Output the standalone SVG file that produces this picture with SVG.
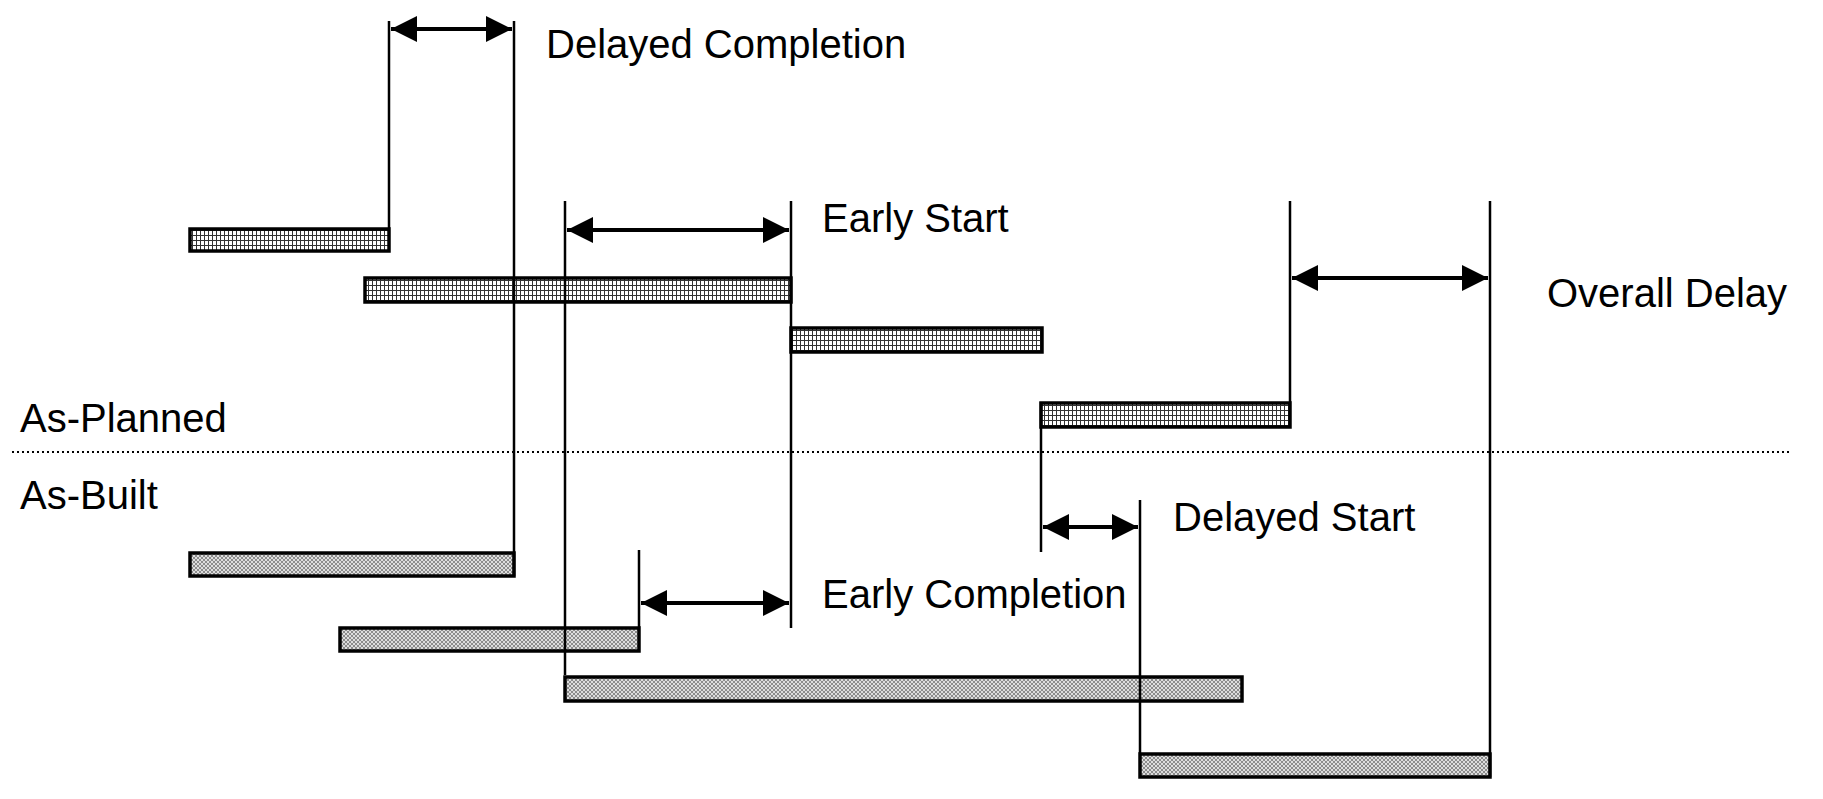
<svg xmlns="http://www.w3.org/2000/svg" width="1823" height="799" viewBox="0 0 1823 799">
<style>
.t{font-family:"Liberation Sans",Arial,sans-serif;font-size:40px;fill:#000}
.pl{fill:url(#grid);stroke:#000;stroke-width:3.5}
.ab{fill:url(#dots);stroke:#000;stroke-width:3.5}
.v{stroke:#000;stroke-width:2.5;fill:none}
.a{stroke:#000;stroke-width:4;fill:none;marker-start:url(#ah);marker-end:url(#ah)}
</style>
<defs>
<pattern id="grid" width="4" height="5" patternUnits="userSpaceOnUse">
<rect width="4" height="5" fill="#fff"/><path d="M0.5 0V5M0 0.5H4" stroke="#333" stroke-width="1"/>
</pattern>
<pattern id="dots" width="4" height="4" patternUnits="userSpaceOnUse">
<rect width="4" height="4" fill="#ddd"/><path d="M0 0L2 2L4 0M0 4L2 2L4 4" stroke="#777" stroke-width="0.8" fill="none"/>
</pattern>
<marker id="ah" viewBox="0 0 10 10" refX="10" refY="5" markerWidth="6.5" markerHeight="6.5" orient="auto-start-reverse" markerUnits="strokeWidth">
<path d="M0 0L10 5L0 10z" fill="#000"/>
</marker>
</defs>
<rect width="1823" height="799" fill="#fff"/>
<line x1="12" y1="452" x2="1790" y2="452" stroke="#000" stroke-width="2" stroke-dasharray="2,3"/>
<g id="planned1"><rect class="pl" x="190" y="229" width="199" height="22"/></g>
<g id="planned2"><rect class="pl" x="365" y="278" width="426" height="24"/></g>
<g id="planned3"><rect class="pl" x="791" y="328" width="251" height="24"/></g>
<g id="planned4"><rect class="pl" x="1041" y="403" width="249" height="24"/></g>
<g id="built1"><rect class="ab" x="190" y="553" width="324" height="23"/></g>
<g id="built2"><rect class="ab" x="340" y="628" width="299" height="23"/></g>
<g id="built3"><rect class="ab" x="565" y="677" width="677" height="24"/></g>
<g id="built4"><rect class="ab" x="1140" y="754" width="350" height="23"/></g>
<g id="connectors">
<path class="v" d="M389 21V228M514 21V576M565 201V675M791 201V628M1290 201V402M1490 201V777M1041 402V552M1140 500V753M639 550V627"/>
<line class="a" x1="391" y1="29" x2="512" y2="29"/>
<line class="a" x1="567" y1="230" x2="789" y2="230"/>
<line class="a" x1="1292" y1="278" x2="1488" y2="278"/>
<line class="a" x1="1043" y1="527" x2="1138" y2="527"/>
<line class="a" x1="641" y1="603" x2="789" y2="603"/>
</g>
<g id="labels">
<text class="t" x="546" y="58">Delayed Completion</text>
<text class="t" x="822" y="232">Early Start</text>
<text class="t" x="1547" y="307">Overall Delay</text>
<text class="t" x="20" y="432">As-Planned</text>
<text class="t" x="20" y="509">As-Built</text>
<text class="t" x="1173" y="531">Delayed Start</text>
<text class="t" x="822" y="608">Early Completion</text>
</g>
</svg>
